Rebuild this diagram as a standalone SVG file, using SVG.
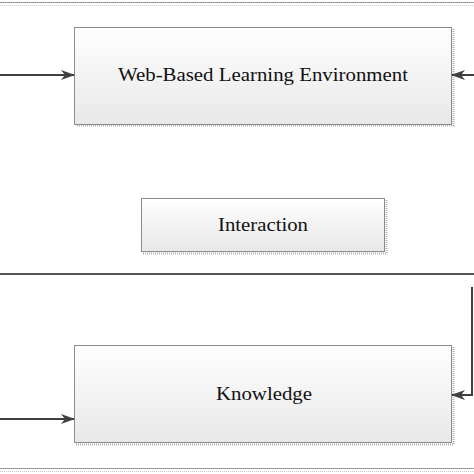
<svg xmlns="http://www.w3.org/2000/svg" width="474" height="474" viewBox="0 0 474 474">
<defs>
<linearGradient id="g" x1="0" y1="0" x2="0" y2="1">
<stop offset="0" stop-color="#ffffff"/>
<stop offset="1" stop-color="#e8e8e8"/>
</linearGradient>
<marker id="ah" viewBox="0 0 14 10" refX="13" refY="5" markerWidth="14" markerHeight="10" markerUnits="userSpaceOnUse" orient="auto">
<path d="M0,0 L14,5 L0,10 L4,5 Z" fill="#404040"/>
</marker>
<style>
.box{fill:url(#g);stroke:#8c8c8c;stroke-width:1}
.shadow{fill:none;stroke:#b0b0b0;stroke-width:2;stroke-dasharray:1 1}
.lbl{font-family:"Liberation Serif",serif;font-size:18px;fill:#111;text-anchor:middle;dominant-baseline:central}
.conn{fill:none;stroke:#404040;stroke-width:2}
.rule{stroke:#555;stroke-width:2}
.thin{stroke:#9a9a9a;stroke-width:1}
</style>
</defs>
<rect width="474" height="474" fill="#ffffff"/>
<g id="frame">
<line class="thin" x1="0" y1="2.5" x2="474" y2="2.5"/>
<line x1="0" y1="5.5" x2="474" y2="5.5" stroke="#c8c8c8" stroke-width="1" stroke-dasharray="1 1"/>
<line class="rule" x1="0" y1="274" x2="474" y2="274"/>
<line class="thin" x1="0" y1="468.5" x2="474" y2="468.5"/>
<line x1="0" y1="471.5" x2="474" y2="471.5" stroke="#c8c8c8" stroke-width="1" stroke-dasharray="1 1"/>
</g>
<g id="node-web">
<polyline class="shadow" points="453.5,29 453.5,125.5 76,125.5"/>
<rect class="box" x="74.5" y="27.5" width="377" height="97"/>
<text class="lbl" x="263" y="75" textLength="290" lengthAdjust="spacingAndGlyphs">Web-Based Learning Environment</text>
</g>
<g id="node-interaction">
<polyline class="shadow" points="386.5,200 386.5,253.5 143,253.5"/>
<rect class="box" x="141.5" y="198.5" width="243" height="53"/>
<text class="lbl" x="263" y="225" textLength="90" lengthAdjust="spacingAndGlyphs">Interaction</text>
</g>
<g id="node-knowledge">
<polyline class="shadow" points="453.5,347 453.5,444.5 76,444.5"/>
<rect class="box" x="74.5" y="345.5" width="377" height="97"/>
<text class="lbl" x="264" y="394" textLength="96" lengthAdjust="spacingAndGlyphs">Knowledge</text>
</g>
<g id="connectors">
<line class="conn" x1="0" y1="75" x2="74" y2="75" marker-end="url(#ah)"/>
<line class="conn" x1="474" y1="75" x2="452" y2="75" marker-end="url(#ah)"/>
<polyline class="conn" points="472,287 472,395 452,395" marker-end="url(#ah)"/>
<line class="conn" x1="0" y1="419" x2="74" y2="419" marker-end="url(#ah)"/>
</g>
</svg>
